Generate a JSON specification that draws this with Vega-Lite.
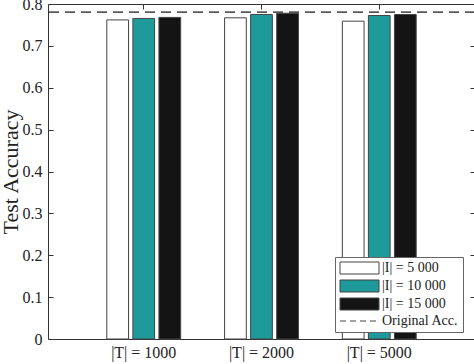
{
  "$schema": "https://vega.github.io/schema/vega-lite/v6.json",
  "autosize": {"type": "none"},
  "padding": {"left": 48, "top": 4, "right": 0, "bottom": 25},
  "width": 427,
  "height": 335,
  "background": "white",
  "data": {
    "values": [
      {"group": "|T| = 1000", "series": "|I| = 5 000", "value": 0.762},
      {"group": "|T| = 1000", "series": "|I| = 10 000", "value": 0.7655},
      {"group": "|T| = 1000", "series": "|I| = 15 000", "value": 0.768},
      {"group": "|T| = 2000", "series": "|I| = 5 000", "value": 0.767},
      {"group": "|T| = 2000", "series": "|I| = 10 000", "value": 0.775},
      {"group": "|T| = 2000", "series": "|I| = 15 000", "value": 0.778},
      {"group": "|T| = 5000", "series": "|I| = 5 000", "value": 0.759},
      {"group": "|T| = 5000", "series": "|I| = 10 000", "value": 0.7725},
      {"group": "|T| = 5000", "series": "|I| = 15 000", "value": 0.775}
    ]
  },
  "layer": [
    {
      "mark": {"type": "bar", "stroke": "#444", "strokeWidth": 1},
      "encoding": {
        "x": {
          "field": "group", "type": "nominal", "sort": null,
          "scale": {"paddingInner": 0, "paddingOuter": 0.313},
          "axis": {"orient": "bottom", "title": null, "labelAngle": 0, "tickSize": -5, "labelPadding": 10}
        },
        "xOffset": {
          "field": "series", "type": "nominal", "sort": null,
          "scale": {"paddingInner": 0.166, "paddingOuter": 0.843}
        },
        "y": {
          "field": "value", "type": "quantitative",
          "scale": {"domain": [0, 0.8], "nice": false, "zero": true},
          "axis": {
            "orient": "left", "title": "Test Accuracy", "values": [0, 0.1, 0.2, 0.3, 0.4, 0.5, 0.6, 0.7, 0.8],
            "labelExpr": "datum.value == 0 ? '0' : format(datum.value, '.1f')",
            "tickSize": -5, "labelPadding": 11, "titleFontSize": 22, "titlePadding": 0
          }
        },
        "fill": {
          "field": "series", "type": "nominal",
          "scale": {
            "domain": ["|I| = 5 000", "|I| = 10 000", "|I| = 15 000", "Original Acc."],
            "range": ["#ffffff", "#1f9a9a", "#141414", "transparent"]
          },
          "legend": {
            "title": null,
            "orient": "none",
            "legendX": 287,
            "legendY": 253,
            "symbolType": "M-1,-1H5.5V1H-1Z",
            "symbolSize": 144,
            "symbolStrokeWidth": 1,
            "symbolStrokeColor": "#444",
            "labelFont": "Liberation Serif",
            "labelFontSize": 14,
            "labelColor": "#222",
            "labelOffset": 29,
            "rowPadding": 2,
            "padding": 4,
            "strokeColor": "#666",
            "fillColor": "white",
            "encode": {
              "symbols": {
                "update": {
                  "shape": {"signal": "datum.label === 'Original Acc.' ? 'M-1,0H5.5' : 'M-1,-1H5.5V1H-1Z'"},
                  "strokeDash": {"signal": "datum.label === 'Original Acc.' ? [6, 4] : [1, 0]"},
                  "stroke": {"value": "#444"}
                }
              }
            }
          }
        }
      }
    },
    {
      "mark": {"type": "rule", "strokeDash": [10, 6], "color": "#555", "strokeWidth": 1},
      "encoding": {
        "y": {"datum": 0.78, "type": "quantitative", "axis": null}
      }
    },
    {
      "mark": {"type": "point", "opacity": 0},
      "encoding": {
        "x": {
          "field": "group", "type": "nominal", "sort": null,
          "axis": {"orient": "top", "title": null, "labels": false, "tickSize": -5}
        },
        "y": {
          "field": "value", "type": "quantitative",
          "axis": {"orient": "right", "title": null, "labels": false, "tickSize": -5, "values": [0, 0.1, 0.2, 0.3, 0.4, 0.5, 0.6, 0.7, 0.8]}
        }
      }
    }
  ],
  "resolve": {"axis": {"x": "independent", "y": "independent"}},
  "config": {
    "view": {"stroke": null},
    "font": "Liberation Serif",
    "axis": {
      "grid": false,
      "domainColor": "#333",
      "tickColor": "#333",
      "tickWidth": 1,
      "labelFont": "Liberation Serif",
      "labelFontSize": 16,
      "labelColor": "#222",
      "titleFont": "Liberation Serif",
      "titleFontWeight": "normal",
      "titleColor": "#222",
      "zindex": 1
    }
  }
}
